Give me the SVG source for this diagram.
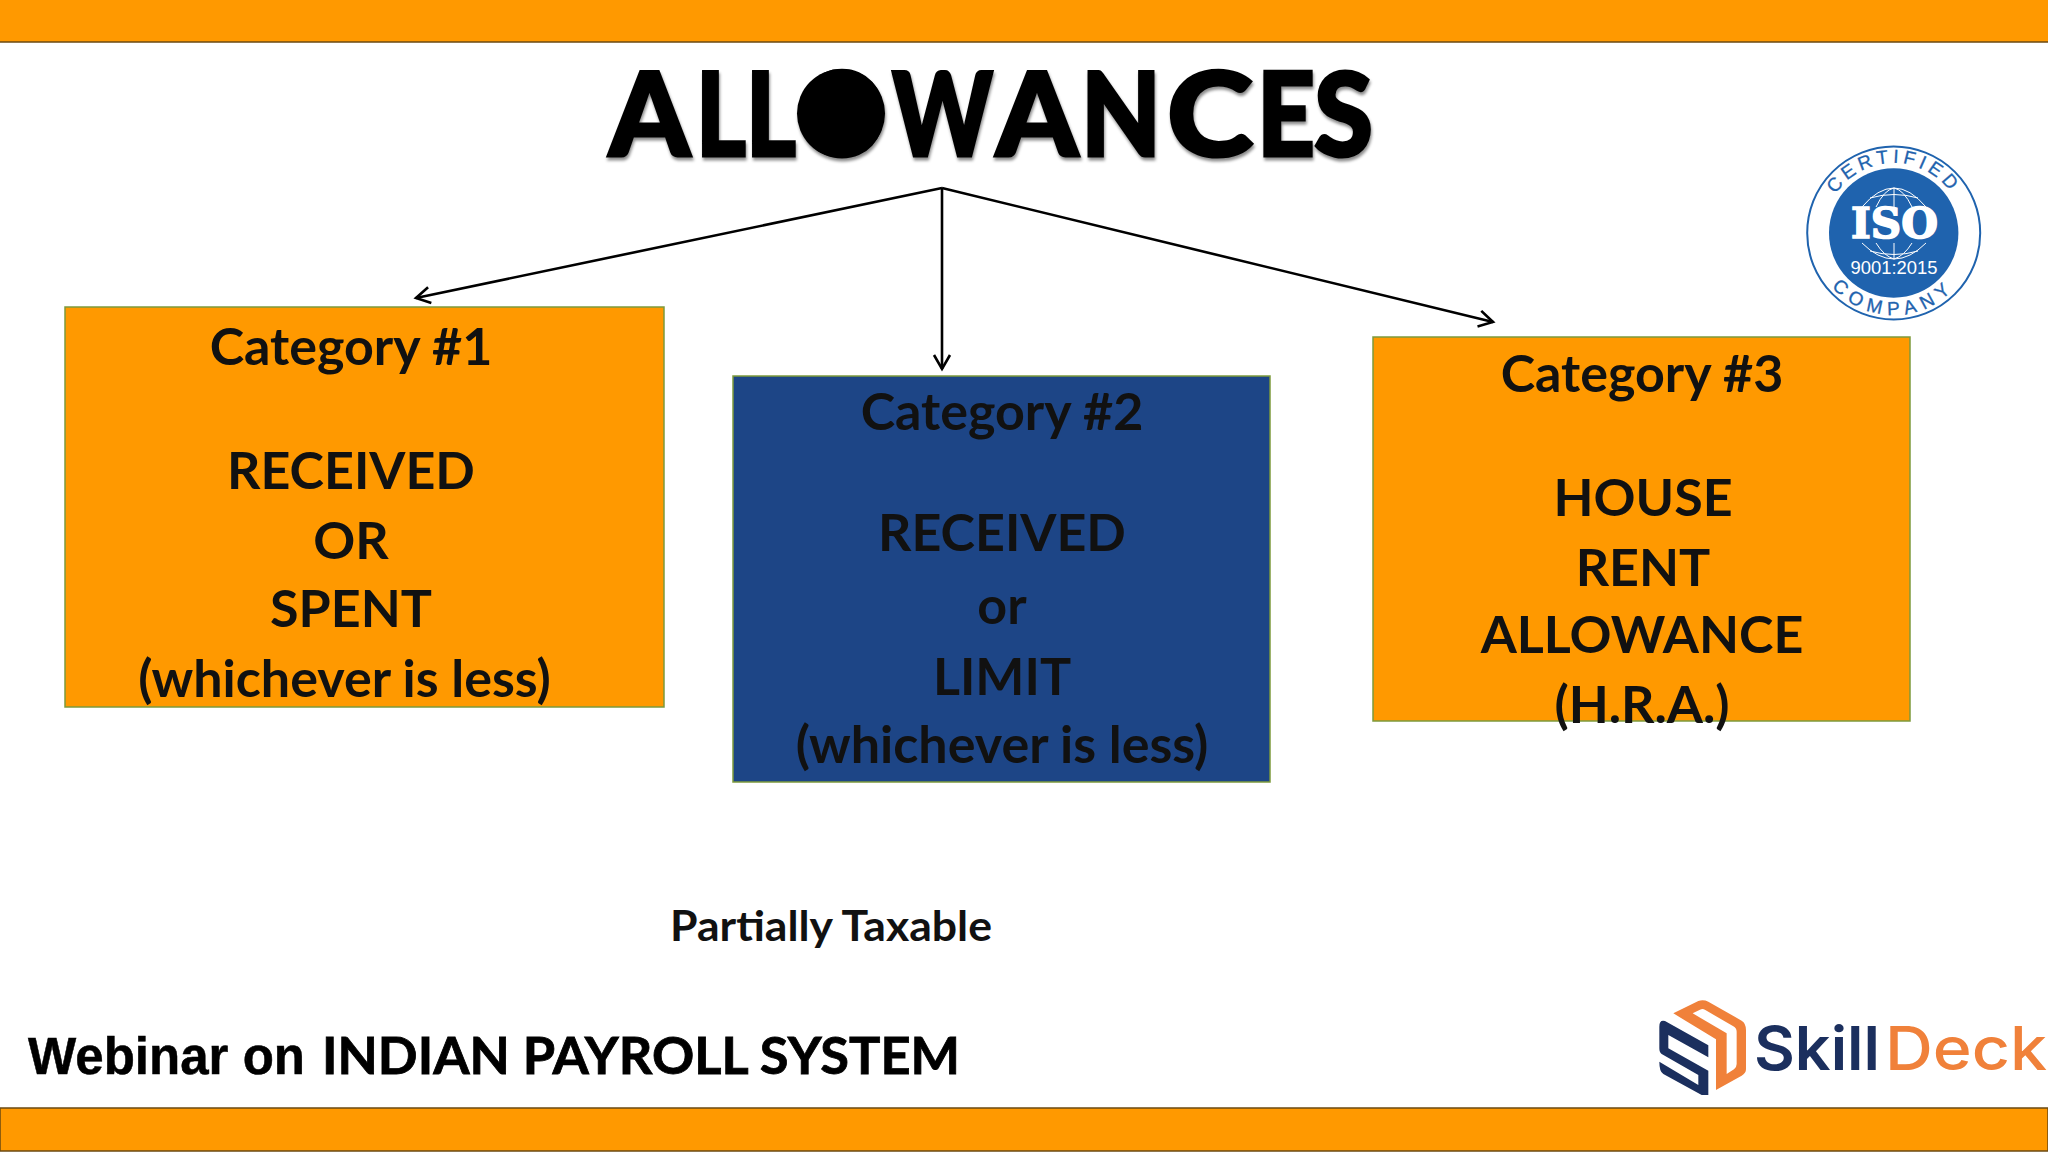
<svg xmlns="http://www.w3.org/2000/svg" width="2048" height="1152" viewBox="0 0 2048 1152">
<style>
.bar{fill:#ff9900;stroke:#6b4a12;stroke-width:1.5}
.box{stroke:#7d9a3c;stroke-width:1.5}
.lbl{font-family:"Lato","Liberation Sans",sans-serif;font-weight:700;font-size:52px;fill:#111;text-anchor:middle}
.conn{fill:none;stroke:#000;stroke-width:2.6}
.iso{font-family:"Liberation Sans",sans-serif;fill:#1f63ae;font-size:19px;stroke:#1f63ae;stroke-width:0.3}
</style>
<defs>
<marker id="arr" markerUnits="userSpaceOnUse" markerWidth="24" markerHeight="24" refX="17" refY="10" orient="auto"><path d="M3 2 L17 10 L3 18" fill="none" stroke="#000" stroke-width="2.6"/></marker>
<filter id="sh" x="-5%" y="-20%" width="110%" height="140%"><feDropShadow dx="1" dy="3" stdDeviation="1.8" flood-color="#000" flood-opacity="0.45"/></filter>
<path id="arcT" d="M1823.7 233 A70 70 0 0 1 1963.7 233"/>
<path id="arcB" d="M1811.7 233 A82 82 0 0 0 1975.7 233"/>
</defs>
<rect width="2048" height="1152" fill="#fff"/>
<rect class="bar" x="-2" y="-2" width="2052" height="44"/>
<rect class="bar" x="0" y="1108" width="2048" height="43"/>

<g id="title" filter="url(#sh)">
<text y="156" font-family="Lato,'Liberation Sans',sans-serif" font-weight="900" font-size="116" fill="#000" stroke="#000" stroke-width="3"><tspan x="609" textLength="81" lengthAdjust="spacingAndGlyphs">A</tspan><tspan x="696" textLength="50" lengthAdjust="spacingAndGlyphs">L</tspan><tspan x="746" textLength="50" lengthAdjust="spacingAndGlyphs">L</tspan><tspan x="798" textLength="88" lengthAdjust="spacingAndGlyphs">O</tspan><tspan x="892" textLength="101" lengthAdjust="spacingAndGlyphs">W</tspan><tspan x="996" textLength="82" lengthAdjust="spacingAndGlyphs">A</tspan><tspan x="1081" textLength="80" lengthAdjust="spacingAndGlyphs">N</tspan><tspan x="1167" textLength="86" lengthAdjust="spacingAndGlyphs">C</tspan><tspan x="1257" textLength="58" lengthAdjust="spacingAndGlyphs">E</tspan><tspan x="1314" textLength="59" lengthAdjust="spacingAndGlyphs">S</tspan></text>
<ellipse cx="841" cy="113.5" rx="44" ry="44.5" fill="#000"/>
</g>

<g id="connectors">
<path class="conn" d="M942 188 L416 298" marker-end="url(#arr)"/>
<path class="conn" d="M942 188 L942 369" marker-end="url(#arr)"/>
<path class="conn" d="M942 188 L1493 322" marker-end="url(#arr)"/>
</g>

<g id="cat1">
<rect class="box" x="65" y="307" width="599" height="400" fill="#ff9900"/>
<text class="lbl" x="351" y="365">Category #1</text>
<text class="lbl" x="351" y="489">RECEIVED</text>
<text class="lbl" x="351" y="559">OR</text>
<text class="lbl" x="351" y="627">SPENT</text>
<text class="lbl" x="344.5" y="697">(whichever is less)</text>
</g>
<g id="cat2">
<rect class="box" x="733" y="376" width="537" height="406" fill="#1d4586"/>
<text class="lbl" x="1002" y="430">Category #2</text>
<text class="lbl" x="1002" y="551">RECEIVED</text>
<text class="lbl" x="1002" y="624">or</text>
<text class="lbl" x="1002" y="695">LIMIT</text>
<text class="lbl" x="1002" y="763">(whichever is less)</text>
</g>
<g id="cat3">
<rect class="box" x="1373" y="337" width="537" height="384" fill="#ff9900"/>
<text class="lbl" x="1642" y="392">Category #3</text>
<text class="lbl" x="1643" y="516">HOUSE</text>
<text class="lbl" x="1643" y="586">RENT</text>
<text class="lbl" x="1642" y="653">ALLOWANCE</text>
<text class="lbl" x="1642" y="723">(H.R.A.)</text>
</g>

<text id="taxable" x="670" y="941" font-family="Lato,sans-serif" font-weight="700" font-size="42" fill="#111" textLength="322" lengthAdjust="spacingAndGlyphs">Partially Taxable</text>
<g id="webinar" fill="#000" font-weight="700" font-size="51">
<text x="28" y="1074" font-family="'Liberation Sans',sans-serif" textLength="277" lengthAdjust="spacingAndGlyphs" stroke="#000" stroke-width="0.5">Webinar on</text>
<text x="322" y="1074" font-family="Lato,sans-serif" textLength="638" lengthAdjust="spacingAndGlyphs" stroke="#000" stroke-width="0.8">INDIAN PAYROLL SYSTEM</text>
</g>

<g id="iso">
<circle cx="1893.7" cy="233" r="86.5" fill="#fff" stroke="#1f63ae" stroke-width="2"/>
<circle cx="1893.7" cy="233" r="64.7" fill="#1f63ae"/>
<text class="iso"><textPath href="#arcT" startOffset="50%" text-anchor="middle" letter-spacing="4.2">CERTIFIED</textPath></text>
<text class="iso"><textPath href="#arcB" startOffset="50%" text-anchor="middle" letter-spacing="6.5">COMPANY</textPath></text>
<g fill="none" stroke="#fff" stroke-width="1">
<path d="M1862 207 Q1894 169 1926 207 M1876 207 Q1884 190 1894 188 Q1904 190 1912 207 M1894 188 V207 M1870 198 Q1894 191 1918 198"/>
<path d="M1862 243 Q1894 275 1926 243 M1876 243 Q1884 256 1894 259 Q1904 256 1912 243 M1894 243 V259 M1870 251 Q1894 258 1918 251"/>
</g>
<text x="1851" y="238" font-family="'DejaVu Serif',serif" font-weight="700" font-size="42" fill="#fff" stroke="#fff" stroke-width="1.6" textLength="87" lengthAdjust="spacingAndGlyphs">ISO</text>
<text x="1850.5" y="274" font-family="'Liberation Sans',sans-serif" font-size="18" fill="#fff" textLength="87" lengthAdjust="spacingAndGlyphs">9001:2015</text>
</g>

<g id="skilldeck">
<g transform="translate(1630 980) scale(0.3333)">
<path fill="#f0813a" fill-rule="evenodd" d="M130 100 L205 63 Q220 58 235 65 L335 122 Q348 130 348 150 L348 268 Q348 280 335 287 L258 330 L258 178 Z M188 100 L290 160 L290 282 L312 268 Q320 262 320 252 L320 155 Q320 145 310 139 L226 90 Q218 85 210 89 Z"/>
<path fill="#1b2f5e" d="M88 140 Q88 118 105 123 L235 196 L235 232 L115 165 L115 205 L235 272 L235 345 L215 345 L100 282 Q88 275 88 245 L205 315 L205 285 L95 222 Q88 218 88 205 Z"/>
</g>
<text x="1754" y="1070" font-family="Inter,sans-serif" font-weight="600" font-size="60" fill="#1b2f5e" textLength="126" lengthAdjust="spacingAndGlyphs">Skill</text>
<text x="1885" y="1070" font-family="Inter,sans-serif" font-weight="500" font-size="60" fill="#f0813a" textLength="162" lengthAdjust="spacingAndGlyphs">Deck</text>
</g>
</svg>
